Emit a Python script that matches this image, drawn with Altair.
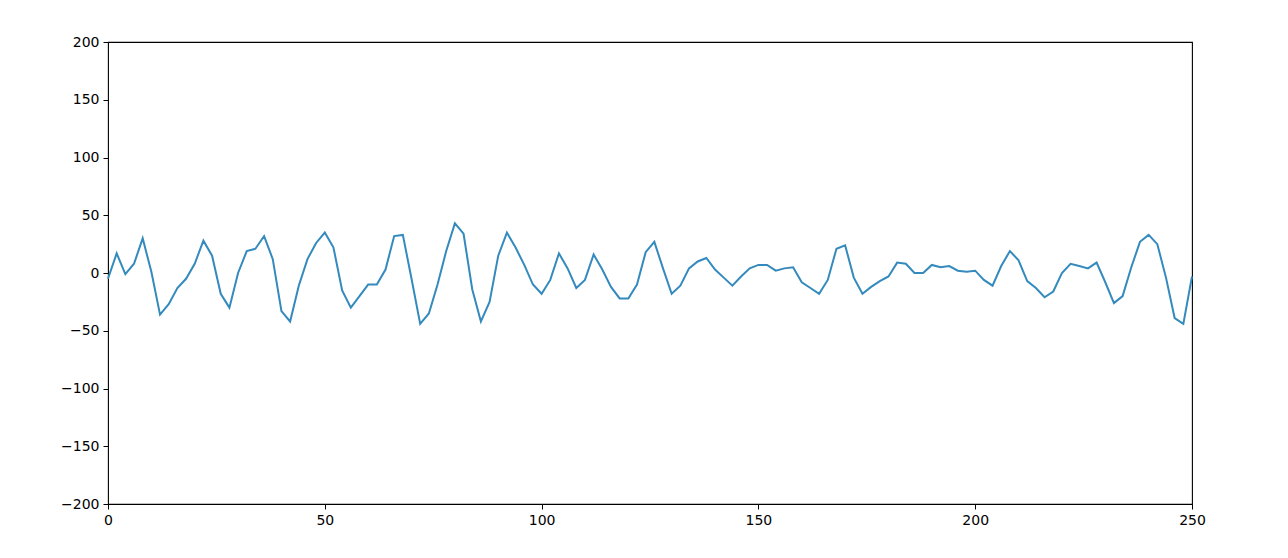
import altair as alt
import pandas as pd

x_values = list(range(0, 251, 2))
y_values = [
    -5, 17, -1, 8, 30, 1, -36, -27, -13, -5,
    8, 28, 15, -18, -30, 0, 19, 21, 32, 12,
    -33, -42, -11, 12, 26, 35, 22, -15, -30, -20,
    -10, -10, 3, 32, 33, -5, -44, -35, -10, 19,
    43, 34, -14, -42, -25, 15, 35, 22, 7, -10,
    -18, -6, 17, 4, -13, -6, 16, 3, -12, -22,
    -22, -10, 18, 27, 4, -18, -11, 4, 10, 13,
    3, -4, -11, -3, 4, 7, 7, 2, 4, 5,
    -8, -13, -18, -6, 21, 24, -4, -18, -12, -7,
    -3, 9, 8, 0, 0, 7, 5, 6, 2, 1,
    2, -6, -11, 6, 19, 11, -7, -13, -21, -16,
    0, 8, 6, 4, 9, -8, -26, -20, 5, 27,
    33, 25, -4, -39, -44, -3,
]

df = pd.DataFrame({"x": x_values, "y": y_values})

x_ticks = [0, 50, 100, 150, 200, 250]
y_ticks = [-200, -150, -100, -50, 0, 50, 100, 150, 200]

axis_common = dict(
    grid=False,
    domain=False,
    ticks=True,
    tickSize=5,
    tickColor="black",
    tickWidth=1,
    labelFont="DejaVu Sans",
    labelFontSize=14,
    labelColor="black",
    labelPadding=4,
    title=None,
    labelExpr="replace(datum.label, '-', '\u2212')",
)

chart = (
    alt.Chart(df)
    .mark_line(color="#348ABD", strokeWidth=2)
    .encode(
        x=alt.X(
            "x:Q",
            scale=alt.Scale(domain=[0, 250], nice=False, zero=False),
            axis=alt.Axis(values=x_ticks, labelFlush=False, **axis_common),
        ),
        y=alt.Y(
            "y:Q",
            scale=alt.Scale(domain=[-200, 200], nice=False),
            axis=alt.Axis(values=y_ticks, labelFlush=False, **axis_common),
        ),
    )
    .properties(
        width=1084,
        height=462,
        background="white",
        autosize=alt.AutoSizeParams(type="none"),
        padding={"left": 100, "top": 34, "right": 80, "bottom": 50},
    )
    .configure_view(stroke="black", strokeWidth=1.1)
)

chart.save("out.html", embed_options={"renderer": "svg", "actions": False})
